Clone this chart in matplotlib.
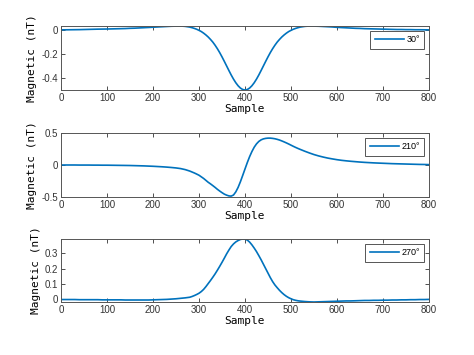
import numpy as np
import matplotlib
matplotlib.use("Agg")
import matplotlib.pyplot as plt

plt.rcParams['font.family'] = ['Liberation Sans', 'DejaVu Sans']
plt.rcParams['axes.unicode_minus'] = False

# sample positions: every 10 at the edges, every 5 around the anomaly
sample = np.concatenate([np.arange(0, 281, 10), np.arange(285, 521, 5), np.arange(530, 801, 10)])

# 30 degrees
mag_30 = [0.0, 0.0005, 0.001, 0.0015, 0.002, 0.003, 0.004, 0.005, 0.006, 0.0065,
          0.007, 0.008, 0.009, 0.010, 0.011, 0.013, 0.014, 0.016, 0.018, 0.020,
          0.022, 0.024, 0.026, 0.028, 0.030, 0.031, 0.032, 0.029, 0.023,
          # 285 .. 520
          0.018, 0.012, 0.005, -0.004, -0.014, -0.027, -0.042, -0.059, -0.079, -0.101,
          -0.127, -0.156, -0.188, -0.223, -0.260, -0.298, -0.336, -0.373, -0.407, -0.437,
          -0.462, -0.481, -0.493, -0.497, -0.493, -0.481, -0.462, -0.437, -0.407, -0.373,
          -0.336, -0.298, -0.260, -0.223, -0.188, -0.156, -0.127, -0.101, -0.079, -0.059,
          -0.042, -0.027, -0.014, -0.004, 0.005, 0.012, 0.018, 0.023,
          # 530 .. 800
          0.029, 0.032, 0.031, 0.030, 0.028, 0.026, 0.024, 0.021, 0.019, 0.017,
          0.015, 0.013, 0.012, 0.010, 0.009, 0.008, 0.007, 0.006, 0.005, 0.004,
          0.003, 0.003, 0.002, 0.002, 0.001, 0.001, 0.0005, 0.0]

# 210 degrees
mag_210 = [0.0, 0.0, 0.0, 0.0, -0.001, -0.001, -0.001, -0.002, -0.002, -0.003,
           -0.003, -0.004, -0.005, -0.006, -0.007, -0.008, -0.010, -0.012, -0.014, -0.017,
           -0.020, -0.024, -0.028, -0.033, -0.039, -0.046, -0.056, -0.072, -0.095,
           # 285 .. 520
           -0.110, -0.125, -0.142, -0.160, -0.185, -0.210, -0.240, -0.270, -0.295, -0.322,
           -0.350, -0.380, -0.407, -0.432, -0.455, -0.471, -0.483, -0.486, -0.469, -0.420,
           -0.350, -0.262, -0.163, -0.062, 0.038, 0.130, 0.210, 0.278, 0.330, 0.368,
           0.393, 0.408, 0.416, 0.420, 0.420, 0.416, 0.410, 0.401, 0.390, 0.376,
           0.361, 0.345, 0.328, 0.310, 0.292, 0.275, 0.259, 0.244,
           # 530 .. 800
           0.215, 0.188, 0.163, 0.142, 0.124, 0.108, 0.095, 0.083, 0.073, 0.065,
           0.058, 0.052, 0.046, 0.041, 0.037, 0.033, 0.030, 0.027, 0.024, 0.021,
           0.019, 0.017, 0.015, 0.013, 0.011, 0.009, 0.008, 0.006]

# 270 degrees
mag_270 = [-0.002, -0.002, -0.002, -0.002, -0.003, -0.003, -0.003, -0.003, -0.003, -0.004,
           -0.004, -0.004, -0.004, -0.004, -0.005, -0.005, -0.005, -0.005, -0.005, -0.005,
           -0.004, -0.003, -0.002, -0.001, 0.001, 0.003, 0.006, 0.009, 0.013,
           # 285 .. 520
           0.018, 0.024, 0.031, 0.039, 0.050, 0.064, 0.082, 0.102, 0.122, 0.143,
           0.165, 0.189, 0.214, 0.240, 0.267, 0.295, 0.320, 0.343, 0.360, 0.373,
           0.382, 0.389, 0.392, 0.391, 0.385, 0.372, 0.354, 0.333, 0.310, 0.284,
           0.257, 0.228, 0.199, 0.170, 0.141, 0.115, 0.093, 0.075, 0.058, 0.043,
           0.030, 0.019, 0.010, 0.003, -0.003, -0.007, -0.010, -0.012,
           # 530 .. 800
           -0.015, -0.017, -0.018, -0.017, -0.016, -0.015, -0.014, -0.013, -0.012, -0.011,
           -0.011, -0.010, -0.009, -0.008, -0.008, -0.007, -0.007, -0.006, -0.006, -0.005,
           -0.005, -0.004, -0.004, -0.003, -0.003, -0.002, -0.002, -0.001]

series = [mag_30, mag_210, mag_270]
labels = ['30°', '210°', '270°']
yticks = [[-0.4, -0.2, 0], [-0.5, 0, 0.5], [0, 0.1, 0.2, 0.3]]
ylims = [None, (-0.5, 0.5), None]

W, H = 474, 355
fig = plt.figure(figsize=(W / 100, H / 100), dpi=100)
boxes = [(26, 90), (133, 197), (239, 302)]
edge = '#555555'

for (top, bot), y, lab, yt, yl in zip(boxes, series, labels, yticks, ylims):
    ax = fig.add_axes([61 / W, 1 - bot / H, 368 / W, (bot - top) / H])
    ax.plot(sample, y, color='#0072BD', lw=1.2, label=lab)
    ax.set_xlim(0, 800)
    if yl is None:
        ax.set_ylim(min(y), max(y))
    else:
        ax.set_ylim(*yl)
    ax.set_xticks(range(0, 801, 100))
    ax.set_yticks(yt)
    ax.set_yticklabels([f'{v:g}' for v in yt])
    ax.tick_params(direction='in', length=3, width=0.6, top=True, right=True,
                   labelsize=7, colors='#333333', pad=2)
    for s in ax.spines.values():
        s.set_color(edge)
        s.set_linewidth(0.7)
    ax.set_xlabel('Sample', family='DejaVu Sans Mono', fontsize=8, labelpad=1)
    ax.set_ylabel('Magnetic (nT)', family='DejaVu Sans Mono', fontsize=8, labelpad=3)
    leg = ax.legend(loc='upper right', fontsize=6.5, fancybox=False, framealpha=1,
                    edgecolor=edge, handlelength=3.2, borderpad=0.5,
                    handletextpad=0.3, borderaxespad=0.5)
    leg.get_frame().set_linewidth(0.7)

fig.savefig('out.png', dpi=100)
